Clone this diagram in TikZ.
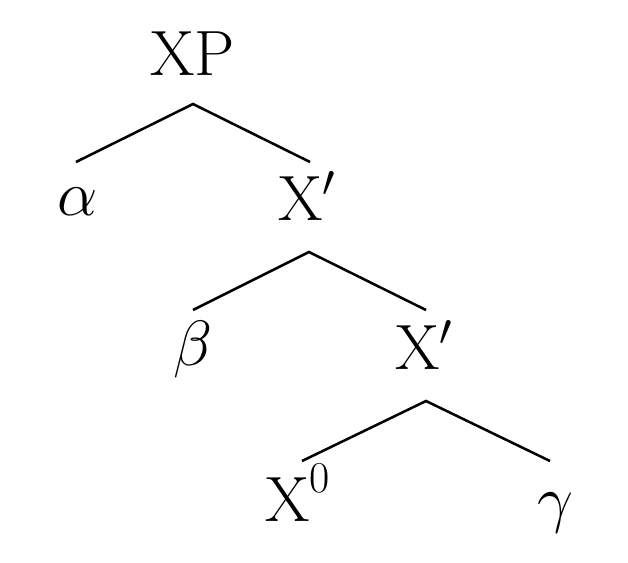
\RequirePackage{fix-cm}
\documentclass[tikz,border=0pt]{standalone}
\usepackage{fontspec}
\begin{document}
\begin{tikzpicture}[x=0.75pt,y=-0.75pt,
  lbl/.style={inner sep=0pt,outer sep=0pt,anchor=base west,font=\fontsize{48}{58}\selectfont},
  edge/.style={line width=1.9pt,line cap=butt}]
\useasboundingbox[fill=white] (0,0) rectangle (628,562);
% labels
\node[lbl] (XP) at (150,75) {XP};
\node[lbl] (alpha) at (57,215) {$\alpha$};
\node[lbl] (Xb1) at (278,220) {X$'$};
\node[lbl] (beta) at (173,365) {$\beta$};
\node[lbl] (Xb2) at (395,369) {X$'$};
\node[lbl] (X0) at (265,521) {X\raisebox{0.45em}{\fontsize{33}{40}\selectfont 0}};
\node[lbl] (gamma) at (537,520) {$\gamma$};
% branch points
\coordinate (a1) at (193,104);
\coordinate (l1) at (76,162);
\coordinate (r1) at (310,162);
\coordinate (a2) at (309,252);
\coordinate (l2) at (193,310);
\coordinate (r2) at (426,310);
\coordinate (a3) at (426,401);
\coordinate (l3) at (302,461);
\coordinate (r3) at (550,461);
\draw[edge] (l1) -- (a1) -- (r1);
\draw[edge] (l2) -- (a2) -- (r2);
\draw[edge] (l3) -- (a3) -- (r3);
\end{tikzpicture}
\end{document}
